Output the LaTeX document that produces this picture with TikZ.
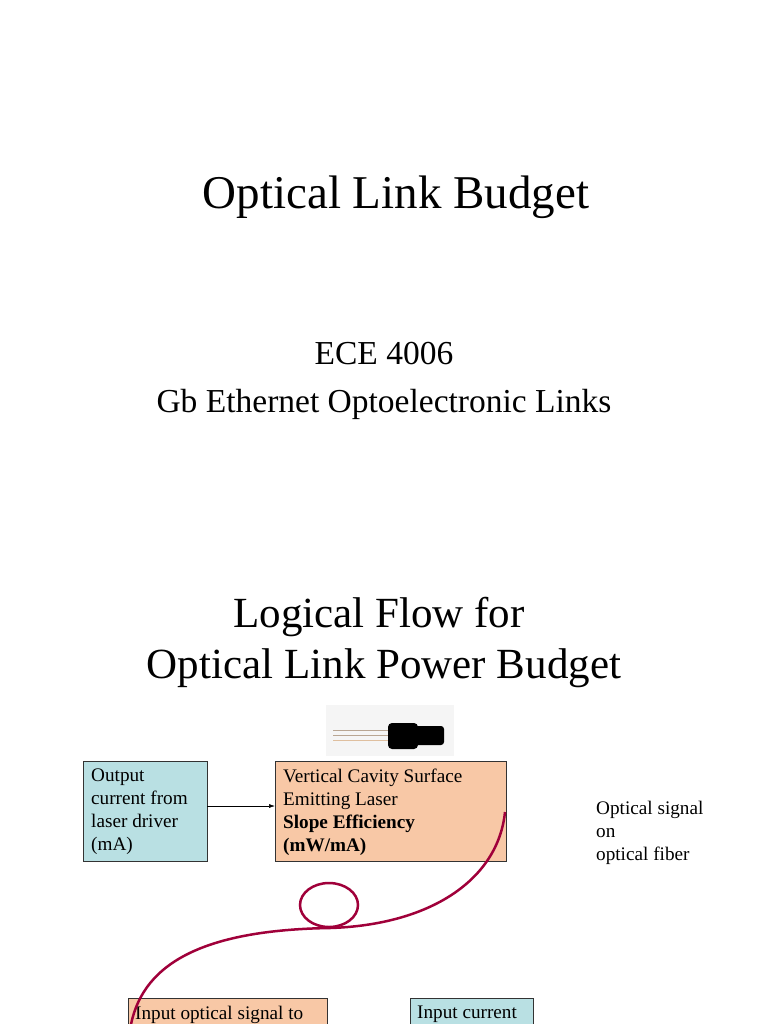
\documentclass[tikz,border=0pt]{standalone}
\usepackage{fontspec}
\setmainfont{Liberation Serif}
\usetikzlibrary{arrows.meta}
\definecolor{bluebox}{HTML}{B9E0E3}
\definecolor{orangebox}{HTML}{F8C8A6}
\definecolor{fiber}{HTML}{A0003A}
\begin{document}
\begin{tikzpicture}[x=1pt,y=-1pt,
  box/.style={draw=black!80,line width=0.8pt,anchor=north west,inner sep=0pt},
  boxtext/.style={anchor=north west,align=left,font=\fontsize{19.2}{23}\selectfont,inner sep=0pt},
  big/.style={font=\fontsize{43}{52}\selectfont},
  mid/.style={font=\fontsize{33.5}{48}\selectfont}]
\useasboundingbox[fill=white] (0,0) rectangle (768,1024);
\node[font=\fontsize{47}{52}\selectfont] (title) at (396,197) {Optical Link Budget};
\node[mid] (ece) at (384,354) {ECE 4006};
\node[mid] (gb) at (384,404) {Gb Ethernet Optoelectronic Links};
\node[big] (lf1) at (379,617) {Logical Flow for};
\node[big] (lf2) at (384,668) {Optical Link Power Budget};
% laser picture
\fill[black!4] (326,705) rectangle (454,756);
\draw[line width=1pt,color=brown!60!black!50] (333,730) -- (392,730) (333,735) -- (392,735);
\draw[line width=1pt,color=brown!50] (333,740) -- (392,740);
\fill[black,rounded corners=4pt] (388,723) rectangle (418,749);
\fill[black,rounded corners=3pt] (415,726) rectangle (444,745);
% boxes
\draw[box,fill=bluebox] (83,761) rectangle (207,861);
\node[boxtext] (b1) at (91,769) {Output\\current from\\laser driver\\(mA)};
\draw[box,fill=orangebox] (275,761) rectangle (506,861);
\node[boxtext] (b2) at (283,769) {Vertical Cavity Surface\\Emitting Laser\\\textbf{Slope Efficiency}\\\textbf{(mW/mA)}};
\coordinate (a1) at (207,806);
\coordinate (a2) at (275,806);
\draw[-{Latex[length=6pt,width=4pt]},line width=0.6pt] (a1) -- (a2);
\node[boxtext] (sig) at (596,801) {Optical signal\\on\\optical fiber};
\draw[box,fill=orangebox] (128,998) rectangle (327,1030);
\node[boxtext] (b3) at (135,1006) {Input optical signal to};
\draw[box,fill=bluebox] (410,998) rectangle (533,1030);
\node[boxtext] (b4) at (417,1006) {Input current};
% fiber
\draw[fiber,line width=2.5pt] (505,812) .. controls (498,880) and (430,925) .. (330,928);
\draw[fiber,line width=2.5pt] (329,905) ellipse [x radius=29, y radius=22];
\draw[fiber,line width=2.5pt] (330,928) .. controls (200,930) and (140,965) .. (130,1030);
\end{tikzpicture}
\end{document}
